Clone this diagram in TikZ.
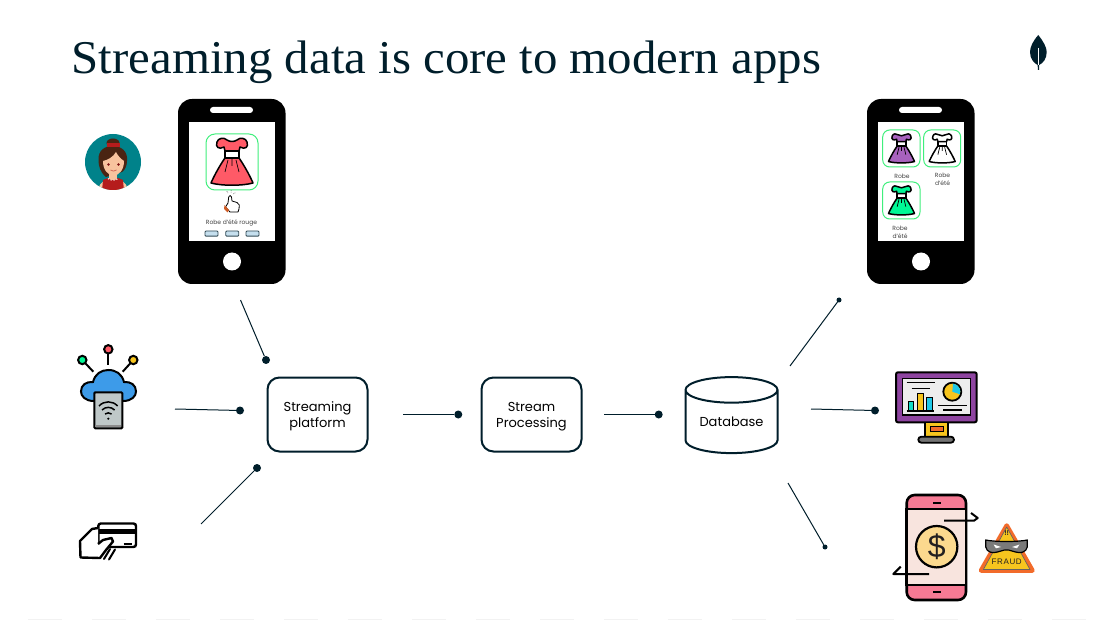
\documentclass[tikz,border=0pt]{standalone}
\usepackage{fontspec}
\setmainfont{Poppins}
\newfontfamily\titlefont[FakeStretch=1.04]{Liberation Serif}
\newfontfamily\symbolfont{Liberation Sans}
\usetikzlibrary{positioning, shapes.geometric}

\definecolor{ink}{HTML}{001E2B}
\definecolor{tealdisc}{HTML}{00828A}
\definecolor{hairbrown}{HTML}{4A2412}
\definecolor{skin}{HTML}{F8C39E}
\definecolor{gownred}{HTML}{B51C1C}
\definecolor{dressred}{HTML}{FF5A67}
\definecolor{dresspurple}{HTML}{A862BE}
\definecolor{dressgreen}{HTML}{00F795}
\definecolor{framegreen}{HTML}{3FEF7C}
\definecolor{keyblue}{HTML}{C5DFEE}
\definecolor{cloudblue}{HTML}{3D9BE9}
\definecolor{slate}{HTML}{BFC8C8}
\definecolor{monpurple}{HTML}{8E44A0}
\definecolor{monyellow}{HTML}{F7C51E}
\definecolor{monorange}{HTML}{F26B2A}
\definecolor{moncyan}{HTML}{1FC8E8}
\definecolor{phonepink}{HTML}{F67A94}
\definecolor{phoneskin}{HTML}{F8E4DE}
\definecolor{coinyellow}{HTML}{FCD98E}
\definecolor{stroke}{HTML}{231F20}

\newcommand{\twolines}[2]{\raisebox{-5pt}[0pt][0pt]{\begin{tabular}{@{}c@{}}#1\\#2\end{tabular}}}

\tikzset{
	flowbox/.style={draw=ink, line width=2pt, rounded corners=12pt, minimum width=100pt, minimum height=74pt, inner sep=0pt, outer sep=0pt, font=\fontsize{13}{16}\selectfont},
	store/.style={draw=ink, line width=2pt, cylinder, shape border rotate=90, aspect=0.4, minimum width=92pt, minimum height=76pt, inner sep=0pt, outer sep=0pt, font=\fontsize{13}{16}\selectfont},
	enddot/.style={circle, fill=ink, inner sep=0pt, minimum size=8pt},
	tinydot/.style={enddot, minimum size=5pt},
	link/.style={draw=ink, line width=1pt},
	tiny label/.style={inner sep=0pt, align=center, text=black!75, font=\fontsize{6}{8}\selectfont},
	dressframe/.style={draw=framegreen, line width=1pt, rounded corners=7pt, fill=white},
	pics/dress/.style={code={
		\draw[black, line width=1.5pt, line join=round, fill=#1] (-7,-4) .. controls (-12,3) and (-18,14) .. (-21,21) .. controls (-10,24) and (10,24) .. (21,21) .. controls (18,14) and (12,3) .. (7,-4) -- cycle;
		\draw[black, line width=0.7pt] (-4,-2) -- (-7,10) (4,-2) -- (7,10) (0,-4) -- (0,4);
		\draw[black, line width=1.5pt, fill=white] (-7,-11) rectangle (7,-4);
		\draw[black, line width=1.5pt, line join=round, fill=#1] (-7,-11) -- (-8,-15) .. controls (-13,-12) and (-17,-15) .. (-15,-20) .. controls (-14,-24) and (-8,-25) .. (-5,-22) .. controls (-2,-20) and (2,-20) .. (5,-22) .. controls (8,-25) and (14,-24) .. (15,-20) .. controls (17,-15) and (13,-12) .. (8,-15) -- (7,-11) -- cycle;
	}},
	pics/handset/.style={code={
		\fill[black, rounded corners=14pt] (0,0) rectangle (107.5,185);
		\fill[white, rounded corners=3pt] (32,8) rectangle (75,14);
		\fill[white] (10.5,23) rectangle (97,142);
		\fill[white] (54,162.5) circle (9);
	}}
}

\begin{document}
\begin{tikzpicture}[x=1pt, y=-1pt]
	\useasboundingbox (0,0) rectangle (1098,620);
	\fill[white] (0,0) rectangle (1098,620);
	
	\node[anchor=base west, inner sep=0pt, text=ink, font=\titlefont\fontsize{47}{50}\selectfont] (title) at (71.5,74) {Streaming data is core to modern apps};
	
	% leaf
	\fill[ink] (1038.3,35) .. controls (1033,41) and (1030,47) .. (1030,52) .. controls (1030,59) and (1034,63) .. (1037.6,65) -- (1038,70) -- (1039,70) -- (1039.2,65) .. controls (1043,63) and (1046.7,59) .. (1046.7,52) .. controls (1046.7,47) and (1043,41) .. (1038.3,35) -- cycle;
	\draw[white, line width=0.6pt] (1038.4,48) -- (1038.4,65);
	
	% avatar
	\fill[tealdisc] (113,162) circle (28);
	\begin{scope}
		\clip (113,162) circle (28);
		\fill[hairbrown] (113,143) ellipse (6.5 and 4.5);
		\fill[hairbrown] (98.5,160) .. controls (98,150) and (105,146) .. (113,146) .. controls (121,146) and (128,151) .. (127,161) .. controls (127,166) and (125,170) .. (122,172) -- (106,177) .. controls (100,172) and (98.5,166) .. (98.5,160) -- cycle;
		\fill[skin] (98,190) .. controls (100,181) and (106,179) .. (113,179) .. controls (120,179) and (126,181) .. (128,190) -- cycle;
		\fill[skin] (109,170) rectangle (117,180);
		\fill[gownred] (103,180) -- (108,178) .. controls (110,181) and (116,181) .. (118,178) -- (123,180) -- (124,191) -- (102,191) -- cycle;
		\fill[skin] (103,161) .. controls (103,170) and (108,175.5) .. (113.5,175.5) .. controls (119,175.5) and (124,170) .. (124,161) .. controls (121,159) and (118,156) .. (116,152) .. controls (113,157) and (108,160) .. (103,161) -- cycle;
		\fill[gownred] (106.7,143.3) rectangle (120,146.8);
		\fill[gownred!70!black] (108.5,164.5) circle (1.3) (118.5,164.5) circle (1.3);
		\draw[gownred!60!skin, line width=0.7pt] (110.5,170) .. controls (112,171.5) and (115,171.5) .. (116.5,170);
		\draw[white, line width=1pt, dotted] (108,178.6) .. controls (110,181) and (116,181) .. (118,178.6);
	\end{scope}
	
	% first handset
	\pic at (178,99) {handset};
	\draw[dressframe, rounded corners=9pt] (206,134) rectangle (258,190);
	\pic at (232,162) {dress=dressred};
	\node[tiny label] (robe red) at (231.5,223) {Robe d'été rouge};
	\foreach \xbtn in {205,225.7,246}
		\draw[ink!80, line width=0.9pt, fill=keyblue, rounded corners=1pt] (\xbtn,231) rectangle ++(13,5.2);
	% pointing hand
	\draw[black, line width=0.8pt, fill=white, line join=round] (228,203) -- (228.7,197) .. controls (229,195) and (231.2,195) .. (231.5,197) -- (232,201) -- (237,202.5) .. controls (239.5,203.5) and (240,206) .. (239,209) -- (238,212) -- (230,212) -- (225.5,207) -- cycle;
	\fill[monorange!85!black] (224.5,205) -- (229,210) -- (227.5,212.5) -- (224,209) -- cycle;
	\draw[black, line width=0.5pt, densely dotted] (228,193) -- (226.5,190.8) (231,192.5) -- (231,190.5) (233.5,194) -- (235.5,192.5);
	
	% second handset
	\pic at (867,99) {handset};
	\draw[dressframe] (882.7,130) rectangle (920,167);
	\draw[dressframe] (923.7,130) rectangle (960.7,167);
	\draw[dressframe] (882.7,182) rectangle (920,219);
	\pic[scale=0.62] at (901.5,148.5) {dress=dresspurple};
	\pic[scale=0.62] at (942.2,148.5) {dress=white};
	\pic[scale=0.62] at (901.5,200.5) {dress=dressgreen};
	\node[tiny label] (robe a) at (902,176) {Robe};
	\node[tiny label] (robe b) at (942.5,179.5) {Robe\\d'été};
	\node[tiny label] (robe c) at (900,232) {Robe\\d'été};
	
	% cloud
	\foreach \xpin/\ypin/\xend/\yend/\cpin in {82.3/360/93.3/371.7/dressgreen, 108.3/349.3/108.3/365/dressred, 133.3/360/122.7/371.7/monyellow} {
		\draw[stroke, line width=2pt] (\xpin,\ypin) -- (\xend,\yend);
		\draw[stroke, line width=2pt, fill=\cpin] (\xpin,\ypin) circle (4.2);
	}
	\draw[stroke, line width=2pt, fill=cloudblue] (94,401) .. controls (85,401) and (81,396) .. (81,391.5) .. controls (81,385) and (86,381.5) .. (93,382) .. controls (95,374) and (101,370) .. (108.3,370) .. controls (116,370) and (122,374) .. (124,382) .. controls (131,381.5) and (136,385) .. (136,391.5) .. controls (136,396) and (132,401) .. (123,401) -- cycle;
	\draw[stroke, line width=2pt, rounded corners=1pt, fill=slate] (94.3,392.3) rectangle (122.3,428.3);
	\fill[black!45] (95.3,424.5) rectangle (121.3,427.3);
	\draw[stroke, line width=1.5pt] (99,406) .. controls (104,400.5) and (112.6,400.5) .. (117.6,406) (102,410) .. controls (105.5,406.5) and (111,406.5) .. (114.6,410) (105,414) .. controls (106.5,412.5) and (110,412.5) .. (111.6,414);
	\fill[stroke] (108.3,418.7) circle (1.2);
	
	% card and hand
	\draw[black, line width=2.4pt, rounded corners=2.5pt, fill=white] (98.3,523.5) rectangle (136,547);
	\fill[black] (98.3,529.3) rectangle (136,534);
	\draw[black, line width=1.8pt] (123.5,544) -- (131.5,544);
	\draw[black, line width=2.4pt, line join=round, fill=white] (98,528) -- (92,529) -- (80,541) -- (80.5,557.5) -- (100,558) -- (106,550) -- (113,541.5) -- (111.5,538) -- (103,540) -- (98,544);
	\draw[black, line width=2pt, line cap=round, fill=white] (104,559) -- (110,549) (109,559.5) -- (115,549.5);
	
	% monitor
	\draw[stroke, line width=2pt, rounded corners=2pt, fill=monpurple] (896,372.3) rectangle (976.7,422.3);
	\draw[stroke, line width=1.4pt, fill=black!7] (902.7,378.3) rectangle (970.7,415);
	\draw[stroke, line width=1.4pt] (906.7,382.7) -- (935,382.7) (911.7,388.3) -- (930,388.3) (906.7,411) -- (934.3,411) (938.3,405.7) -- (966.7,405.7) (943.3,410) -- (961.7,410);
	\draw[stroke, line width=1.4pt, fill=moncyan!60!dressgreen] (908.3,411) rectangle (913.3,401.7);
	\draw[stroke, line width=1.4pt, fill=monyellow] (917.7,411) rectangle (923.3,393.3);
	\draw[stroke, line width=1.4pt, fill=moncyan] (926.7,411) rectangle (932.3,397.3);
	\draw[stroke, line width=1.8pt, fill=monyellow] (952.3,391.7) circle (9);
	\fill[moncyan] (952.3,391.7) -- (953,383.6) arc (-85:20:8) -- cycle;
	\draw[stroke, line width=1.4pt, fill=monyellow] (925,422.3) rectangle (948,436.7);
	\draw[stroke, line width=0.8pt, fill=monorange] (930,426.7) rectangle (943.3,431.7);
	\draw[stroke, line width=1.8pt, rounded corners=3pt, fill=black!55] (918.3,436.7) rectangle (954,442.7);
	
	% payment handset
	\draw[stroke, line width=2.6pt, rounded corners=8pt, fill=phonepink] (906.7,495) rectangle (966,600);
	\draw[stroke, line width=2.6pt, fill=phoneskin] (906.7,509) rectangle (966,585);
	\draw[stroke, line width=2pt] (933,502.7) -- (940.5,502.7) (933,592) -- (940.5,592);
	\draw[stroke, line width=2.2pt, fill=coinyellow] (936.7,546.7) circle (20.7);
	\node[text=stroke, inner sep=0pt, font=\symbolfont\fontsize{32}{32}\selectfont] (dollar) at (936.7,546.7) {\$};
	\draw[stroke, line width=2pt, line join=round] (944,520.7) -- (974,520.7) -- (977.7,518) -- (971,513);
	\draw[stroke, line width=2pt, line join=round] (929,574) -- (893.3,574) -- (900.7,566.7);
	
	% warning sign
	\draw[monorange, line width=4.5pt, line join=round, fill=monorange] (1006.7,525.5) -- (1032.5,570.5) -- (981,570.5) -- cycle;
	\draw[stroke!70, line width=0.7pt, line join=round, fill=monyellow] (1006.7,527) -- (1030,569.5) -- (983.4,569.5) -- cycle;
	\draw[stroke, line width=1.2pt, line join=round, fill=black!52] (985.7,540) .. controls (995,542) and (1018,542) .. (1027.3,540) -- (1027.3,547) .. controls (1026,552.5) and (1021,554) .. (1012,551) .. controls (1008,549.5) and (1005,549.5) .. (1001,551) .. controls (992,554) and (987,552.5) .. (985.7,547) -- cycle;
	\fill[white] (993.5,544.5) -- (1001,547) -- (996,548.3) -- cycle (1019.5,544.5) -- (1012,547) -- (1017,548.3) -- cycle;
	\node[text=stroke, inner sep=0pt, font=\symbolfont\bfseries\fontsize{7}{7}\selectfont] (alert) at (1006.7,533.5) {!!};
	\node[text=stroke, inner sep=0pt, font=\symbolfont\fontsize{8}{8}\selectfont\addfontfeature{LetterSpace=8}] (fraud) at (1006.7,561.7) {FRAUD};
	
	% flow
	\node[flowbox] (platform) at (317.5,414.5) {\twolines{Streaming}{platform}};
	\node[flowbox, right=114pt of platform] (processing) {\twolines{Stream}{Processing}};
	\node[store, right=104pt of processing, yshift=-7.5pt] (database) {\raisebox{-4pt}[0pt][0pt]{Database}};
	
	\node[enddot] (dot phone) at (266,360) {};
	\node[enddot] (dot cloud) at (240,410.5) {};
	\node[enddot] (dot card) at (257,468) {};
	\node[enddot, left=19pt of processing] (dot platform) {};
	\node[enddot, right=73pt of processing] (dot processing) {};
	\node[tinydot] (dot screen) at (839,300) {};
	\node[enddot] (dot monitor) at (875,410.5) {};
	\node[tinydot] (dot fraud) at (825,547) {};
	
	\coordinate (from phone) at (240.5,300);
	\coordinate (from cloud) at (175,409);
	\coordinate (from card) at (201,524);
	\coordinate (from platform) at (403,414.5);
	\coordinate (from processing) at (604,414.5);
	\coordinate (from db top) at (790,366);
	\coordinate (from db mid) at (811,409);
	\coordinate (from db low) at (788,483);
	
	\foreach \a/\b in {from phone/dot phone, from cloud/dot cloud, from card/dot card, from platform/dot platform, from processing/dot processing, from db top/dot screen, from db mid/dot monitor, from db low/dot fraud}
		\path[link] (\a) -- (\b);
	
	% faint rule along the foot
	\draw[black!5, line width=0.8pt, dash pattern=on 34pt off 30pt] (28,619.3) -- (1090,619.3);
\end{tikzpicture}
\end{document}
